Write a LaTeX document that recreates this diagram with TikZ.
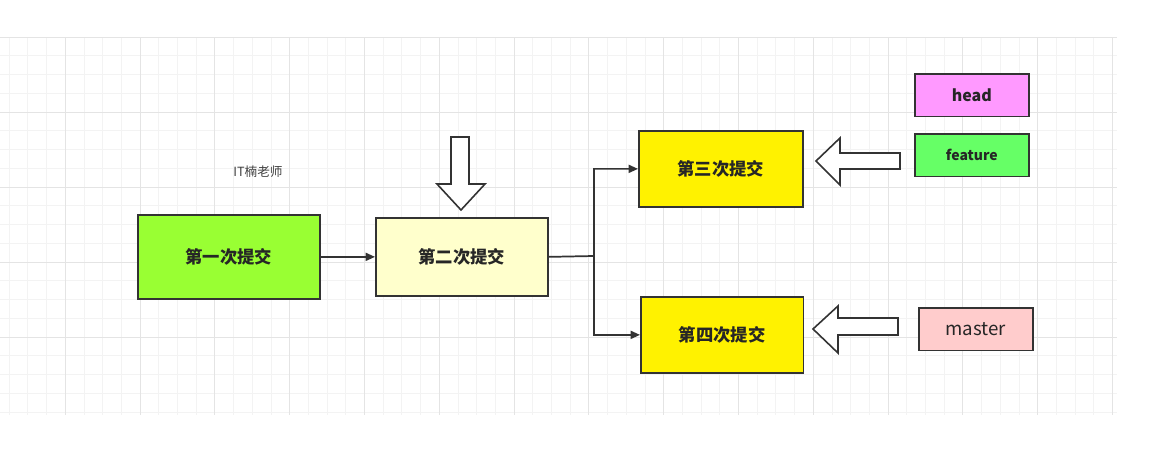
\documentclass[tikz,border=0pt]{standalone}
\usepackage{fontspec}
\setmainfont{Noto Sans CJK SC}
\usetikzlibrary{arrows.meta}
\definecolor{gmin}{HTML}{F3F3F3}
\definecolor{gmaj}{HTML}{E4E4E4}
\definecolor{edge}{HTML}{333333}
\begin{document}
\begin{tikzpicture}[x=0.75pt,y=-0.75pt,
 box/.style={draw=edge,line width=1.3pt,anchor=north west,inner sep=0pt,font=\bfseries\fontsize{13}{13}\selectfont,text=black!85},
 conn/.style={draw=edge,line width=1.3pt,-{Triangle[length=7pt,width=6pt]}},
 blk/.style={draw=edge,line width=1.2pt,fill=white}]
\useasboundingbox (0,0) rectangle (1158,454);
\foreach \i in {0,...,59} {\draw[gmin] (9+18.7*\i,37) -- (9+18.7*\i,415);}
\foreach \j in {0,...,20} {\draw[gmin] (0,37+18.75*\j) -- (1117,37+18.75*\j);}
\foreach \i in {0,...,14} {\draw[gmaj] (65+74.8*\i,37) -- (65+74.8*\i,415);}
\foreach \j in {0,...,4} {\draw[gmaj] (0,37+75*\j) -- (1117,37+75*\j);}
\node[font=\fontsize{9.5}{10}\selectfont,text=black!75] (lbl) at (258,172) {IT楠老师};
\node[box,fill={rgb,255:red,153;green,255;blue,51},minimum width=136.5pt,minimum height=63pt] (c1) at (137,214) {第一次提交};
\node[box,fill={rgb,255:red,255;green,255;blue,204},minimum width=129pt,minimum height=58.5pt] (c2) at (375,217) {第二次提交};
\node[box,fill=yellow,minimum width=123pt,minimum height=57pt] (c3) at (638,130) {第三次提交};
\node[box,fill=yellow,minimum width=122pt,minimum height=57pt] (c4) at (640,296) {第四次提交};
\node[box,fill={rgb,255:red,255;green,153;blue,255},minimum width=85.5pt,minimum height=32pt,font=\bfseries\fontsize{12}{12}\selectfont] (hd) at (914,73) {head};
\node[box,fill={rgb,255:red,102;green,255;blue,102},minimum width=85.5pt,minimum height=32pt,font=\bfseries\fontsize{10.5}{11}\selectfont] (ft) at (914,133) {feature};
\node[box,fill={rgb,255:red,255;green,204;blue,204},minimum width=85.5pt,minimum height=32pt,font=\fontsize{14}{14}\selectfont] (ms) at (918,307) {master};
\draw[conn] (c1.east) -- (c2.west);
\coordinate (j) at (594,256);
\draw[conn] (c2.east) -- (j) |- (c3.west);
\draw[conn] (j) |- (c4.west);
\draw[blk] (900,153) -- (840,153) -- (840,138) -- (816,161) -- (840,185) -- (840,169) -- (900,169) -- cycle;
\draw[blk] (898,318) -- (838,318) -- (838,306) -- (813,329) -- (838,353) -- (838,335) -- (898,335) -- cycle;
\draw[blk] (451,137) -- (469,137) -- (469,184) -- (485,184) -- (461,210) -- (437,184) -- (451,184) -- cycle;
\end{tikzpicture}
\end{document}
